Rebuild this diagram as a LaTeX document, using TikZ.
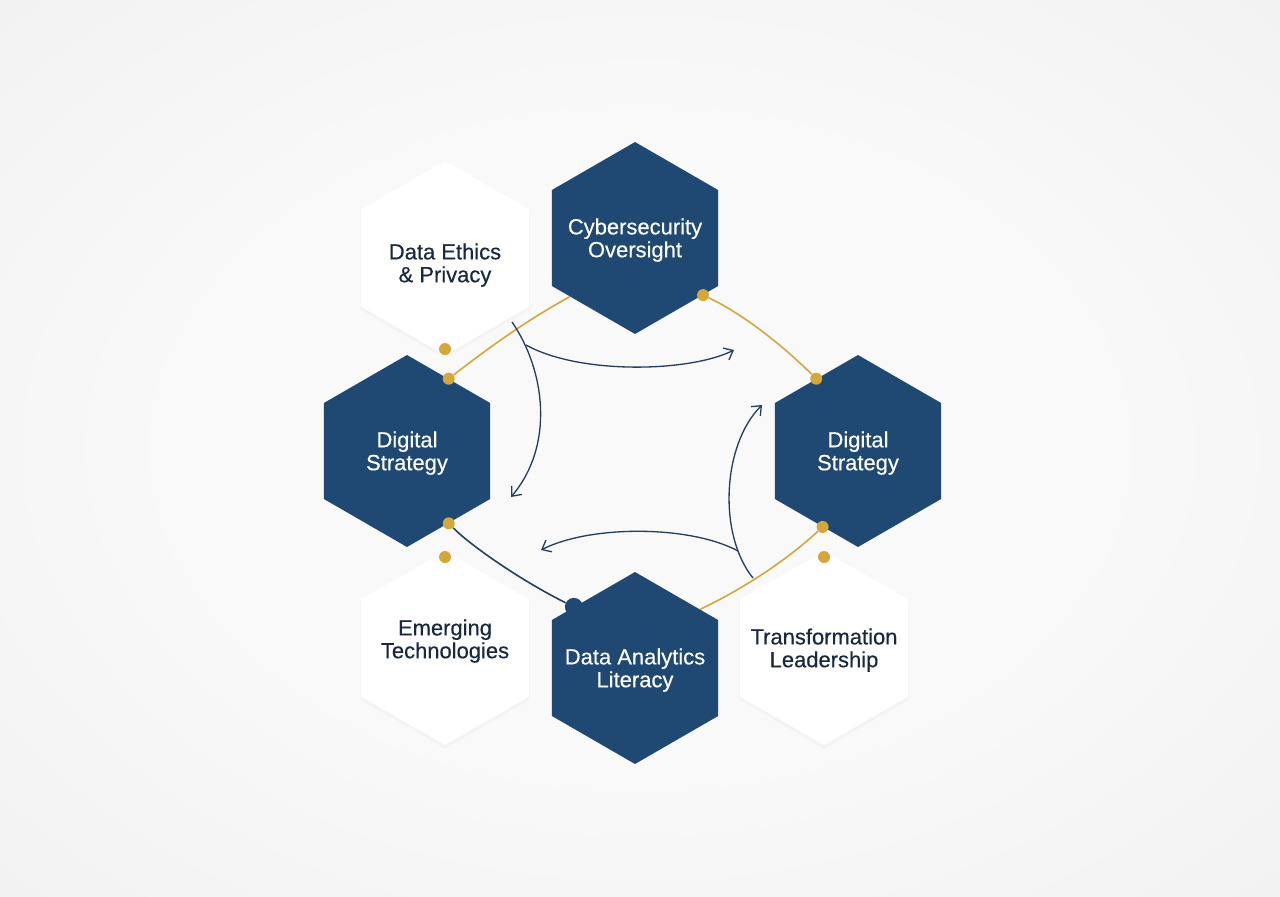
\documentclass[tikz,border=0pt]{standalone}
\usepackage{fontspec}
\setmainfont{Liberation Sans}[FakeBold=0.35]
\usepackage{tikz}
\usetikzlibrary{calc,arrows.meta,shapes.geometric,shadows}
\definecolor{navy}{RGB}{31,73,114}
\definecolor{ink}{RGB}{24,40,62}
\definecolor{gold}{RGB}{212,166,60}
\definecolor{flownavy}{RGB}{36,62,94}
\definecolor{bgin}{RGB}{249,249,249}
\definecolor{bgout}{RGB}{234,234,234}
\pgfdeclareradialshading{glow}{\pgfpoint{0bp}{0bp}}{color(0bp)=(bgin);color(18bp)=(bgin);color(55bp)=(bgout);color(72bp)=(bgout)}

\begin{document}
\begin{tikzpicture}[x=0.02cm,y=-0.02cm,
    hexdark/.style={regular polygon,regular polygon sides=6,shape border rotate=30,inner sep=0pt,
      minimum size=3.84cm,fill=navy},
    hexlight/.style={hexdark,minimum size=3.88cm,fill=white,
      drop shadow={opacity=0.04,shadow xshift=0pt,shadow yshift=-1.5pt,shadow scale=1.01}},
    darktext/.style={text=white,align=center,inner sep=0pt,yshift=-1.2pt,font=\fontsize{12.5}{13}\selectfont},
    lighttext/.style={darktext,text=ink},
    golddot/.style={circle,fill=gold,inner sep=0pt,minimum size=0.24cm},
    navydot/.style={circle,fill=navy,inner sep=0pt,minimum size=0.36cm},
    goldline/.style={draw=gold,line width=0.9pt},
    navyline/.style={draw=flownavy,line width=0.9pt},
    flow/.style={draw=flownavy,line width=0.75pt,-{Straight Barb[length=4.5pt,width=7.5pt]}}]
  % background
  \useasboundingbox (0,0) rectangle (1280,896);
  \shade[shading=glow] (0,0) rectangle (1280,896);

  % hexagons
  \node[hexdark](cyber)at(635,238){};
  \node[hexlight](ethics)at(445,258){};
  \node[hexdark](digl)at(407,451){};
  \node[hexdark](digr)at(858,451){};
  \node[hexlight](emerging)at(445,648){};
  \node[hexdark](analytics)at(635,668){};
  \node[hexlight](transform)at(824,648){};

  % labels
  \node[darktext](cybert)at(cyber){Cybersecurity\\Oversight};
  \node[lighttext](ethicst)at($(ethics)+(0,5)$){Data Ethics\\\& Privacy};
  \node[darktext](diglt)at(digl){Digital\\Strategy};
  \node[darktext](digrt)at(digr){Digital\\Strategy};
  \node[lighttext](emergingt)at($(emerging)+(0,-9)$){Emerging\\Technologies};
  \node[darktext](analyticst)at(analytics){Data Analytics\\Literacy};
  \node[lighttext](transformt)at(transform){Transformation\\Leadership};

  % dots
  \node[golddot](e1)at($(ethics.center)+(0,91)$){};
  \node[golddot](l1)at(digl.60){};
  \node[golddot](l2)at(digl.-60){};
  \node[golddot](c1)at(cyber.-40){};
  \node[golddot](r1)at(digr.120){};
  \node[golddot](r2)at(digr.-115){};
  \node[golddot](m1)at($(emerging.center)+(0,-91)$){};
  \node[golddot](t1)at($(transform.center)+(0,-91)$){};

  % links
  \draw[goldline](l1)..controls(487,349)and(527,320)..(cyber.-138);
  \draw[goldline](c1)..controls(743,314)and(782,345)..(r1);
  \draw[goldline](r2)..controls(790,557)and(749,586)..(analytics.42);
  \node[navydot](a1)at(analytics.135){};
  \draw[navyline](l2)..controls(470,545)and(520,580)..(a1);

  % cycle arrows
  \coordinate(p1)at(512,322);
  \coordinate(p2)at(511,497);
  \coordinate(p3)at(526,345);
  \coordinate(p4)at(734,350);
  \coordinate(p5)at(753,578);
  \coordinate(p6)at(762,405);
  \coordinate(p7)at(738,551);
  \coordinate(p8)at(541,550);
  \draw[flow](p1)..controls(545,370)and(555,445)..(p2);
  \draw[flow](p3)..controls(580,375)and(690,372)..(p4);
  \draw[flow](p5)..controls(718,535)and(722,445)..(p6);
  \draw[flow](p7)..controls(690,525)and(590,525)..(p8);
\end{tikzpicture}
\end{document}
